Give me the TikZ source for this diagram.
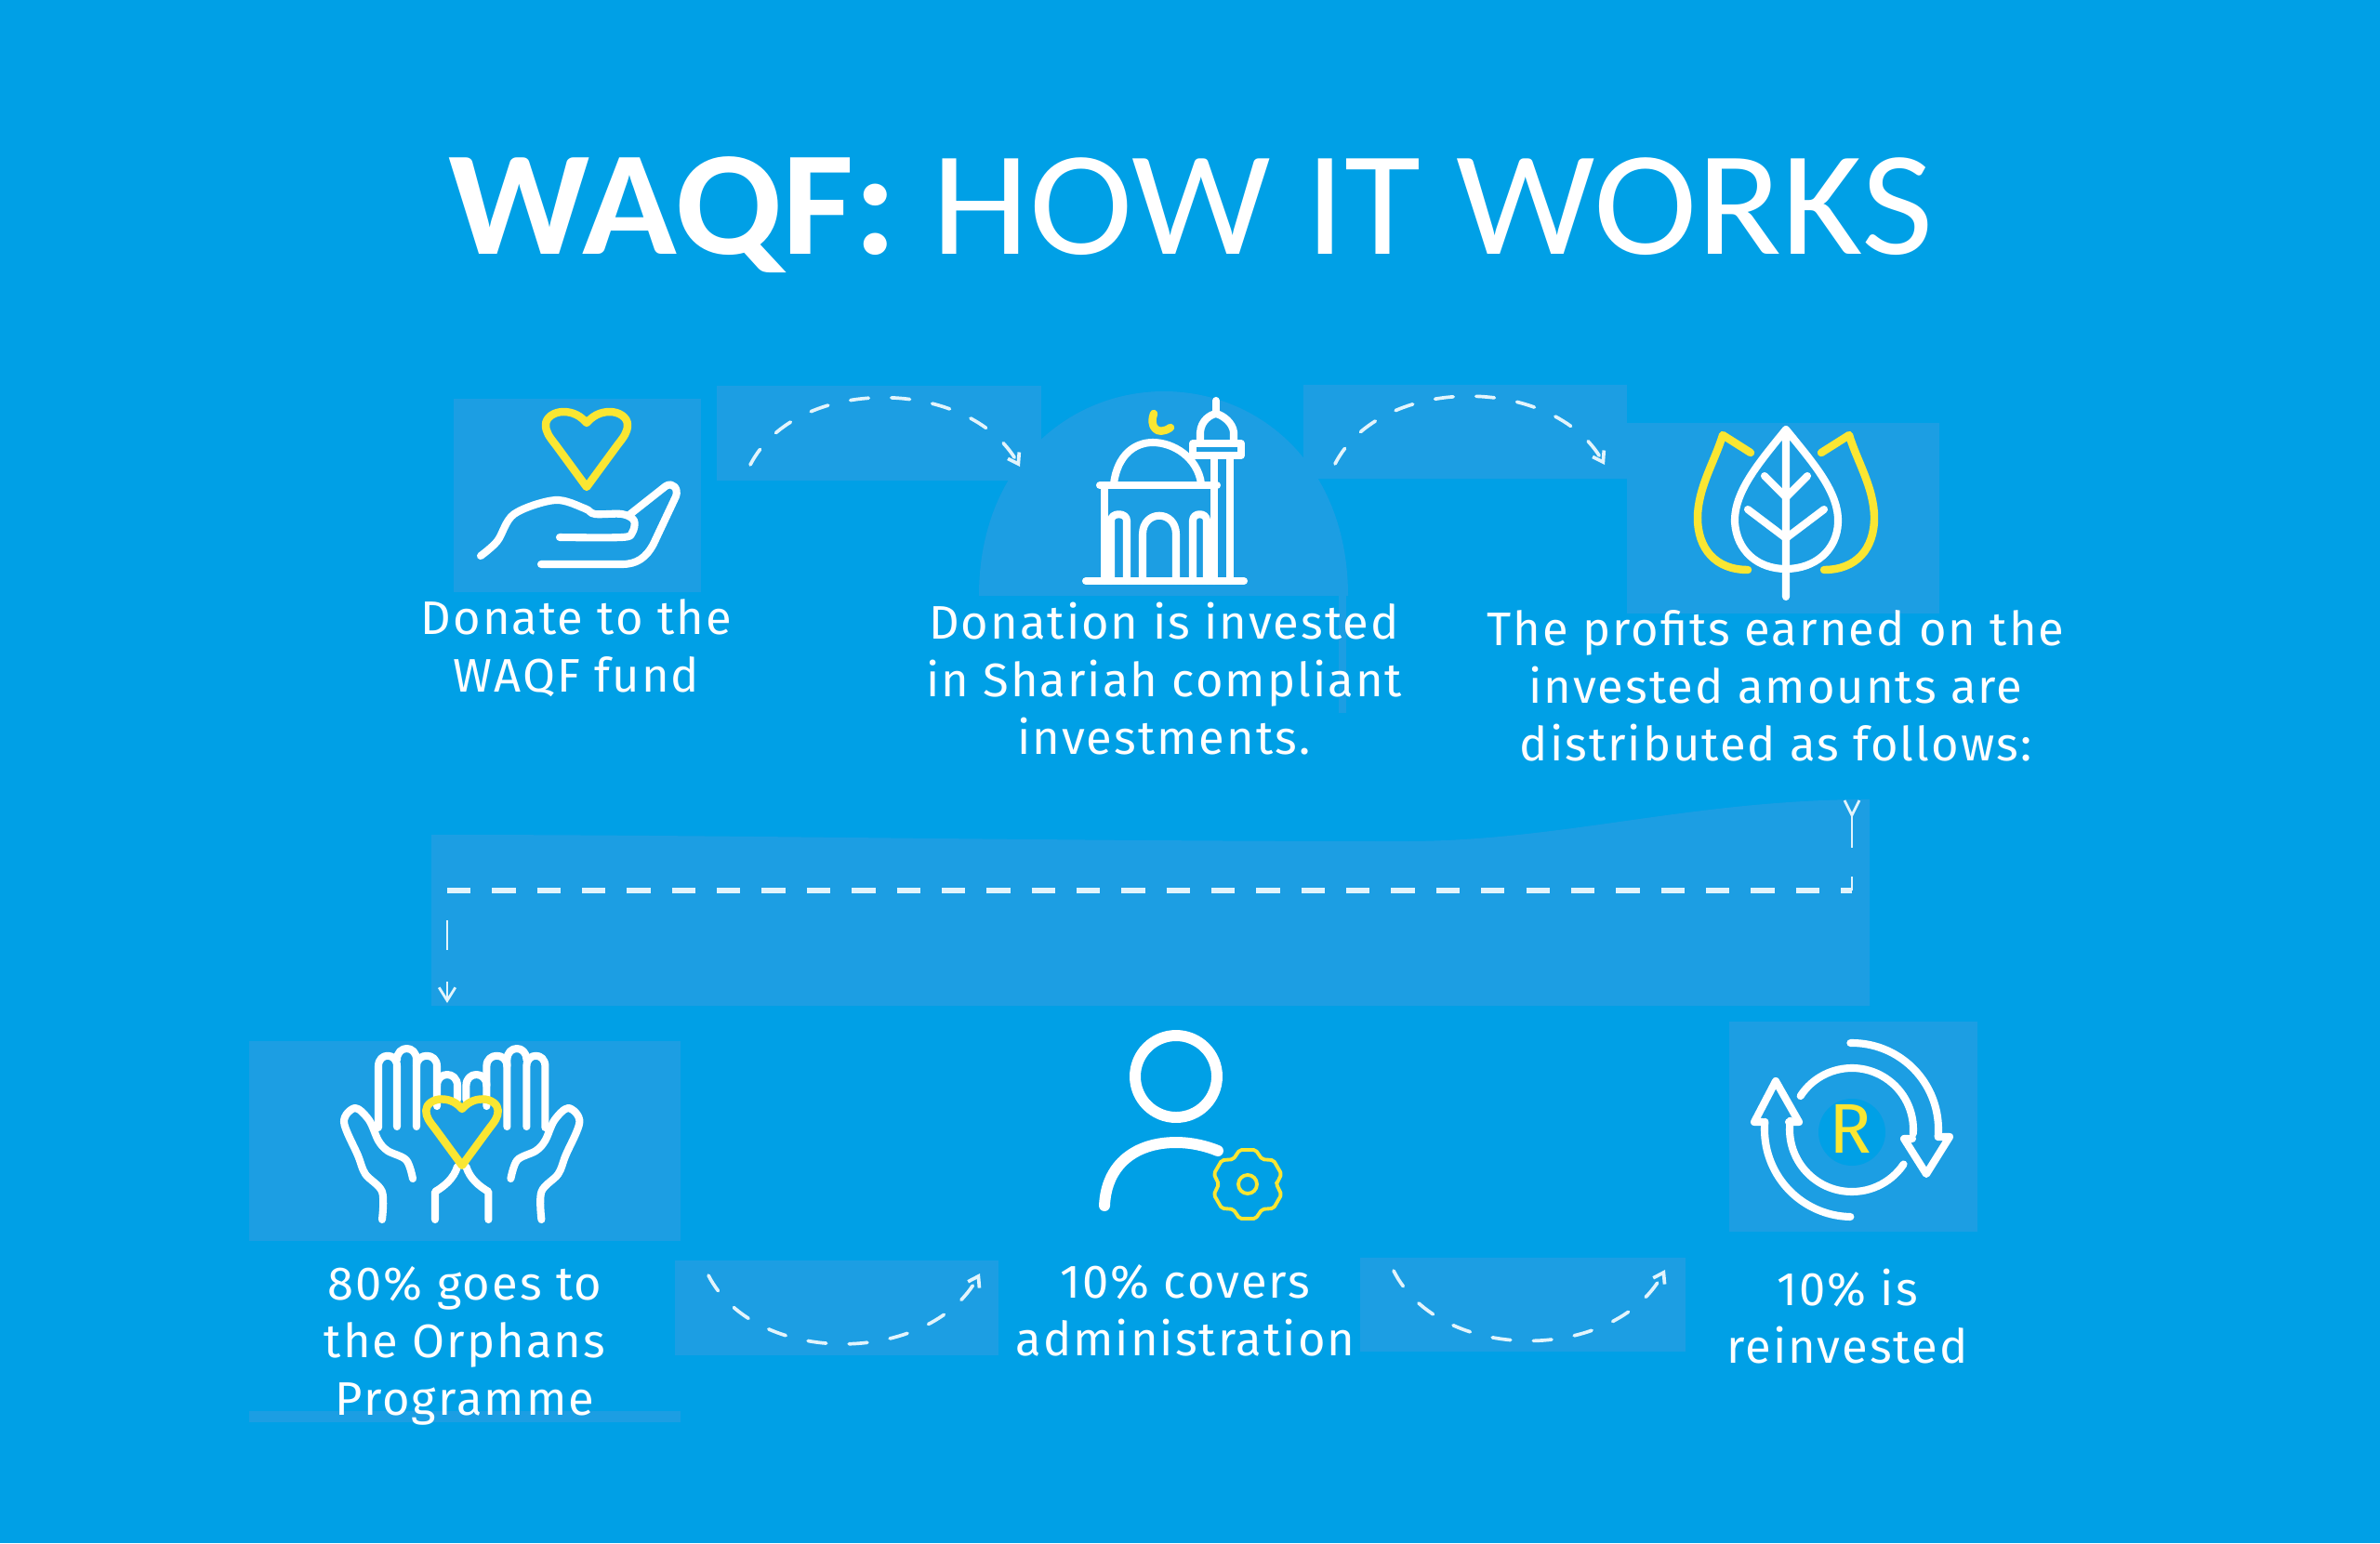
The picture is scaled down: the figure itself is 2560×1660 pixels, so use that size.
\documentclass[tikz,border=0pt]{standalone}
\usepackage{fontspec}
\setmainfont{Fira Sans}
\newfontfamily\titlefont{Carlito}
\usetikzlibrary{arrows.meta}
\definecolor{skyblue}{RGB}{0,160,230}
\definecolor{panelblue}{RGB}{28,158,227}
\definecolor{markyellow}{RGB}{250,230,50}
\definecolor{dashwhite}{RGB}{226,244,252}
\newcommand{\heartshape}{(0,69) -- (-33,24) .. controls (-40,15) and (-44,10) .. (-44,2) .. controls (-44,-6) and (-35,-12) .. (-25,-12) .. controls (-14,-12) and (-6,-7) .. (0,0) .. controls (6,-7) and (14,-12) .. (25,-12) .. controls (35,-12) and (44,-6) .. (44,2) .. controls (44,10) and (40,15) .. (33,24) -- cycle}
\newcommand{\palmhand}{
\draw[iconline] plot[smooth,tension=.55] coordinates {(411,1312) (411,1282) (393,1263) (385,1243) (370,1207) (382,1192) (397,1205) (407,1227) (417,1238) (437,1248) (444,1268)};
\draw[iconline] (407,1213) -- (407,1147) .. controls (407,1132) and (427,1132) .. (427,1147) -- (427,1212);
\draw[iconline] (427,1140) .. controls (427,1124) and (448,1124) .. (448,1140) -- (448,1212);
\draw[iconline] (448,1147) .. controls (448,1132) and (470,1132) .. (470,1147) -- (470,1190);
\draw[iconline] (470,1168) .. controls (470,1152) and (492,1152) .. (492,1168) -- (492,1183);
\draw[iconline] (468,1312) -- (468,1282) .. controls (478,1276) and (488,1268) .. (492,1255);
}
\begin{document}
\begin{tikzpicture}[x=0.01cm,y=-0.01cm,
panel/.style = {fill=panelblue},
iconline/.style = {draw=white, line width=2.3pt, line cap=round, line join=round},
yellowline/.style = {draw=markyellow, line width=2.4pt, line cap=round, line join=round},
flow/.style = {draw=dashwhite, line width=1.05pt, line cap=round, dash pattern=on 5.6pt off 7pt, -{Straight Barb[length=3pt,width=4pt]}},
thinline/.style = {draw=dashwhite, line width=0.8pt},
label/.style = {text=white, align=center, inner sep=0pt, font=\fontsize{14.4}{17.64}\selectfont\addfontfeature{LetterSpace=4}}]
\useasboundingbox (0,0) rectangle (2560,1660);
\fill[skyblue] (0,0) rectangle (2560,1660);

\fill[panel] (488,429) rectangle (754,637);
\fill[panel] (771,415) rectangle (1120,517);
\fill[panel] (1053,641) .. controls (1053,500) and (1150,421) .. (1252,421) .. controls (1354,421) and (1450,500) .. (1450,641) -- cycle;
\fill[panel] (1440,641) rectangle (1448,767);
\fill[panel] (1402,414) rectangle (1750,515);
\fill[panel] (1750,455) rectangle (2086,660);
\fill[panel] (464,898) .. controls (800,898) and (1100,905) .. (1511,905) .. controls (1680,905) and (1820,860) .. (2011,860) -- (2011,1082) -- (464,1082) -- cycle;
\fill[panel] (268,1120) rectangle (732,1335);
\fill[panel] (268,1518) rectangle (732,1530);
\fill[panel] (726,1356) rectangle (1074,1458);
\fill[panel] (1463,1353) rectangle (1813,1454);
\fill[panel] (1860,1099) rectangle (2127,1325);

\node[text=white, inner sep=0pt, font=\titlefont\fontsize{45.5}{50}\selectfont] (title) at (1281,231) {\scalebox{1.05}[1]{\textbf{WAQF:} HOW IT WORKS}};
\node[label] (donate) at (620,697) {Donate to the\\WAQF fund};
\node[label] (invest) at (1252,730) {Donation is invested\\in Shariah compliant\\investments.};
\node[label] (profit) at (1910,738) {The profits earned on the\\invested amounts are\\distributed as follows:};
\node[label] (orphan) at (500,1448) {80\% goes to\\the Orphans\\Programme};
\node[label] (admin) at (1275,1410) {10\% covers\\administration};
\node[label] (reinvest) at (1987,1416) {10\% is\\reinvested};

\coordinate (a1s) at (807,500);
\coordinate (a1e) at (1097,502);
\coordinate (a2s) at (1436,499);
\coordinate (a2e) at (1726,500);
\coordinate (a3s) at (762,1372);
\coordinate (a3e) at (1054,1370);
\coordinate (a4s) at (1499,1367);
\coordinate (a4e) at (1791,1366);
\draw[flow] (a1s) .. controls +(50,-97) and +(-55,-97) .. (a1e);
\draw[flow] (a2s) .. controls +(50,-97) and +(-55,-97) .. (a2e);
\draw[flow] (a3s) .. controls +(50,98) and +(-55,100) .. (a3e);
\draw[flow] (a4s) .. controls +(50,100) and +(-55,101) .. (a4e);

\coordinate (splitr) at (1992,958);
\coordinate (splitl) at (481,958);
\draw[dashwhite, line width=1.6pt, dash pattern=on 7.2pt off 6.55pt] (splitl) -- (splitr);
\draw[thinline] (1992,958) -- (1992,943);
\draw[thinline] (1992,912) -- (1992,876);
\draw[thinline] (1984,861) -- (1992,877) -- (2000,861);
\draw[thinline] (481,990) -- (481,1022);
\draw[thinline, -{Straight Barb[length=4pt,width=5pt]}] (481,1056) -- (481,1079);

% hand with heart
\begin{scope}[shift={(631,455)}]
\draw[yellowline] \heartshape;
\end{scope}
\draw[iconline] plot[smooth,tension=.55] coordinates {(517,598) (535,582) (553,553) (597,538) (629,547) (640,553) (669,553) (682,560) (680,573) (669,578) (602,578)};
\draw[iconline] (678,553) -- (716,523) .. controls (724,518) and (730,526) .. (727,534) -- (703,585) .. controls (695,600) and (685,607) .. (669,607) -- (582,607);

% mosque
\draw[iconline] (1168,625) -- (1338,625);
\draw[iconline] (1183,522) -- (1309,522);
\draw[iconline] (1188,522) -- (1188,625);
\draw[iconline] (1306,522) -- (1306,490);
\draw[iconline] (1306,522) -- (1306,625);
\draw[iconline] (1323,490) -- (1323,625);
\draw[iconline] (1198,520) .. controls (1202,490) and (1220,476) .. (1240,476) .. controls (1262,476) and (1288,492) .. (1292,520);
\draw[iconline] (1195,625) -- (1195,560) .. controls (1195,551) and (1212,551) .. (1212,560) -- (1212,625);
\draw[iconline] (1229,625) -- (1229,575) .. controls (1229,548) and (1265,548) .. (1265,575) -- (1265,625);
\draw[iconline] (1283,625) -- (1283,560) .. controls (1283,551) and (1298,551) .. (1298,560) -- (1298,625);
\draw[iconline] (1283,477) rectangle (1335,490);
\draw[iconline] (1291,477) -- (1291,465) .. controls (1292,452) and (1302,446) .. (1308,445) .. controls (1316,447) and (1326,455) .. (1327,465) -- (1327,477);
\draw[iconline] (1308,445) -- (1308,431);
\draw[yellowline] (1241,445) .. controls (1236,458) and (1244,470) .. (1259,460);

% leaf
\draw[iconline] (1921,462) .. controls (1890,500) and (1865,530) .. (1866,562) .. controls (1868,592) and (1890,612) .. (1921,612) .. controls (1952,612) and (1976,592) .. (1977,562) .. controls (1978,530) and (1952,500) .. (1921,462) -- (1921,642);
\draw[iconline] (1898,512) -- (1921,535) -- (1944,512);
\draw[iconline] (1880,548) -- (1921,579) -- (1962,548);
\draw[yellowline] (1883,487) -- (1853,468) .. controls (1845,495) and (1826,525) .. (1826,557) .. controls (1826,590) and (1845,613) .. (1880,613);
\draw[yellowline] (1959,487) -- (1989,468) .. controls (1997,495) and (2016,525) .. (2016,557) .. controls (2016,590) and (1997,613) .. (1962,613);

% open hands
\palmhand
\begin{scope}[shift={(993.4,0)},xscale=-1]
\palmhand
\end{scope}
\begin{scope}[shift={(497,1193)},scale=.88]
\draw[yellowline] \heartshape;
\end{scope}

% person with gear
\coordinate (head) at (1265,1158);
\coordinate (gear) at (1342,1274);
\draw[iconline, line width=3.4pt] (head) circle (44);
\draw[iconline, line width=3.4pt] (1188,1297) .. controls (1190,1252) and (1222,1229) .. (1265,1229) .. controls (1282,1229) and (1298,1233) .. (1310,1238);
\begin{scope}[shift={(gear)}]
\draw[yellowline, line width=1.1pt, rounded corners=0.6pt] (0:31) foreach \a in {30,90,...,330} {-- (\a-13:38) -- (\a+13:38) -- (\a+30:31)} -- cycle;
\draw[yellowline, line width=1.1pt] (0,0) circle (10);
\end{scope}

% recycle arrows
\coordinate (rmid) at (1992,1215);
\fill[skyblue] (1992,1218) circle (36);
\node[text=markyellow, inner sep=0pt, font=\fontsize{21.5}{25}\selectfont] (rlabel) at (1990,1214) {R};
\draw[iconline] (rmid) ++(-147:66) arc[start angle=-147, end angle=4, radius=66];
\draw[iconline] (rmid) ++(188:67) arc[start angle=188, end angle=34, radius=67];
\draw[iconline] (rmid) ++(-91:93) arc[start angle=-91, end angle=5, radius=93];
\draw[iconline] (rmid) ++(185:94) arc[start angle=185, end angle=91, radius=94];
\draw[iconline] (2057,1225) -- (2048,1225) -- (2072,1263) -- (2097,1223) -- (2085,1223);
\draw[iconline] (1896,1207) -- (1887,1207) -- (1910,1163) -- (1935,1207) -- (1924,1207);
\end{tikzpicture}
\end{document}
